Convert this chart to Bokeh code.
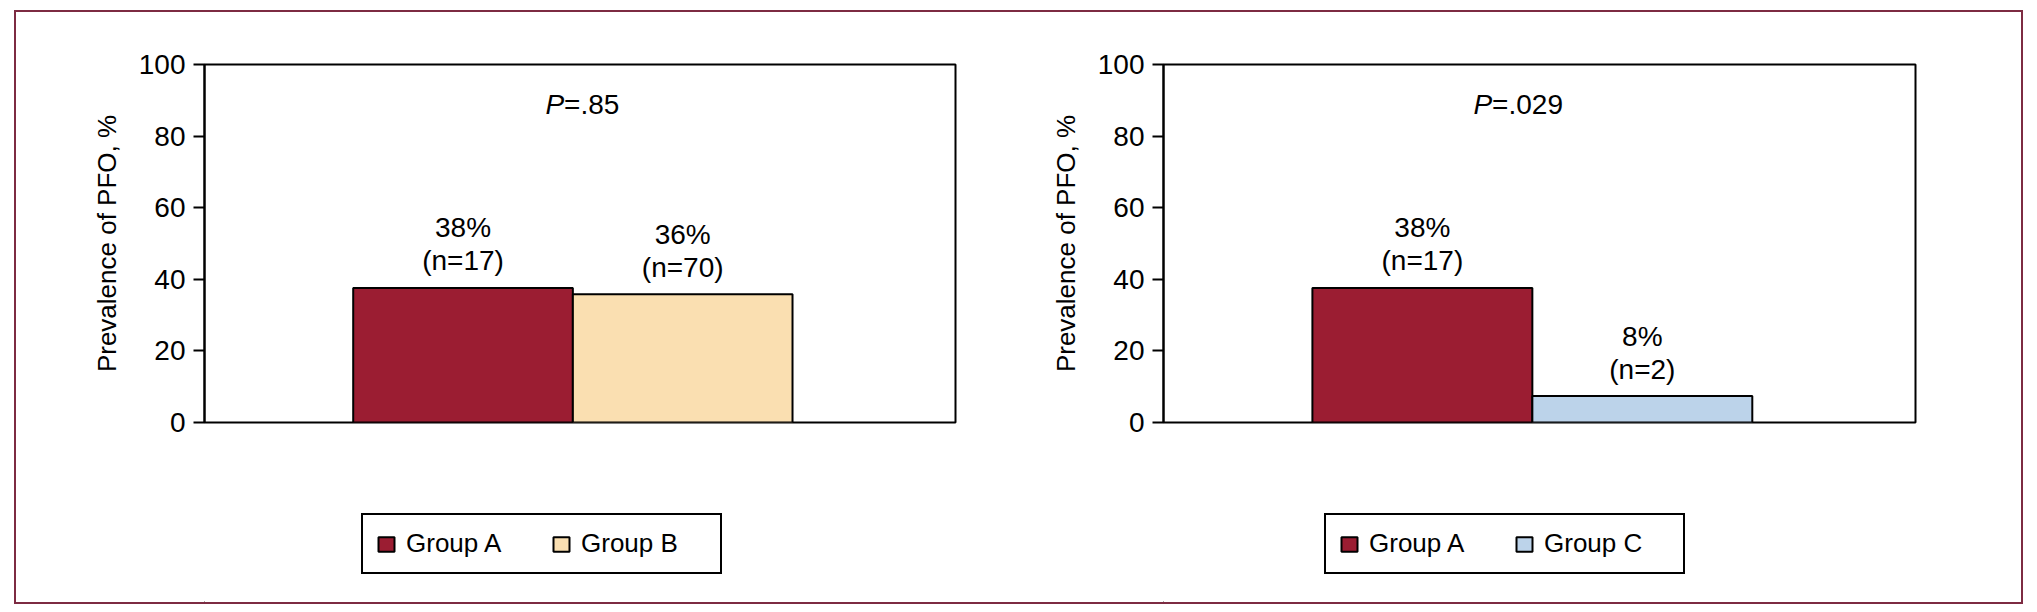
from bokeh.plotting import figure
from bokeh.layouts import row, column
from bokeh.models import Range1d, Legend, LegendItem, ColumnDataSource
from bokeh.core.properties import value
from bokeh.embed import file_html
from bokeh.resources import INLINE

FONT = "Liberation Sans"

# data
y_ticks = [0, 20, 40, 60, 80, 100]

left_groups = ["Group A", "Group B"]
left_values = [37.6, 35.8]
left_pct = ["38%", "36%"]
left_n = ["(n=17)", "(n=70)"]
left_colors = ["#9b1d32", "#fadfb1"]
left_pval = ".85"

right_groups = ["Group A", "Group C"]
right_values = [37.6, 7.4]
right_pct = ["38%", "8%"]
right_n = ["(n=17)", "(n=2)"]
right_colors = ["#9b1d32", "#bcd3ea"]
right_pval = ".029"


def make_panel(groups, values, pct, n, colors, pval, p_x, width, b_left, b_right, leg_x):
    src = ColumnDataSource(data=dict(x=[i + 0.5 for i in range(len(groups))], top=values,
                                     color=colors, pct=pct, n=n))

    p = figure(width=width, height=430, x_range=Range1d(-0.677, 2.742), y_range=Range1d(0, 100),
               x_axis_type=None, output_backend="svg", toolbar_location=None, tools="",
               min_border_left=b_left, min_border_right=b_right, min_border_top=52, min_border_bottom=20)
    p.xgrid.grid_line_color = None
    p.ygrid.grid_line_color = None
    p.outline_line_color = "black"
    p.outline_line_width = 2
    p.background_fill_color = "white"
    p.border_fill_color = "white"

    ax = p.yaxis[0]
    ax.ticker = y_ticks
    ax.axis_line_width = 2
    ax.major_tick_line_width = 2
    ax.major_tick_in = 0
    ax.major_tick_out = 11
    ax.minor_tick_line_color = None
    ax.major_label_standoff = 8
    ax.major_label_text_font = FONT
    ax.major_label_text_font_size = "28px"
    ax.major_label_text_color = "black"
    ax.axis_label = "Prevalence of PFO, %"
    ax.axis_label_text_font = FONT
    ax.axis_label_text_font_size = "26px"
    ax.axis_label_text_font_style = "normal"
    ax.axis_label_text_color = "black"
    ax.axis_label_standoff = 14

    p.vbar(x="x", top="top", width=1, fill_color="color", line_color="black",
           line_width=2, source=src)
    p.text(x="x", y="top", text="n", y_offset=-27, text_align="center", text_baseline="middle",
           text_font=value(FONT), text_font_size="28px", text_color="black", source=src)
    p.text(x="x", y="top", text="pct", y_offset=-60, text_align="center", text_baseline="middle",
           text_font=value(FONT), text_font_size="28px", text_color="black", source=src)

    p.text(x=[p_x], y=[88.7], text=["P"], text_align="right", text_baseline="middle",
           text_font=value(FONT), text_font_size="28px", text_font_style="italic", text_color="black")
    p.text(x=[p_x], y=[88.7], text=["=" + pval], text_align="left", text_baseline="middle",
           text_font=value(FONT), text_font_size="28px", text_color="black")

    # legend lives in its own strip under the chart (bars kept out of its view range)
    lg = figure(width=width, height=160, x_range=Range1d(100, 101), y_range=Range1d(100, 101),
                x_axis_type=None, y_axis_type=None, output_backend="svg", toolbar_location=None,
                tools="", min_border=0, outline_line_color=None)
    lg.border_fill_color = "white"
    lg_bars = lg.vbar(x="x", top="top", width=1, fill_color="color", line_color="black",
                      line_width=2, source=src)
    legend = Legend(items=[LegendItem(label=g, renderers=[lg_bars], index=i) for i, g in enumerate(groups)],
                    orientation="horizontal", location=(leg_x, 28), margin=0,
                    border_line_color="black", border_line_width=2, border_line_alpha=1.0,
                    padding=13, spacing=19,
                    glyph_width=20, glyph_height=18, label_standoff=10, label_width=126, label_height=31,
                    label_text_font=FONT, label_text_font_size="26px", label_text_color="black",
                    background_fill_color="white", background_fill_alpha=1)
    lg.add_layout(legend)
    return column(p, lg)


c1 = make_panel(left_groups, left_values, left_pct, left_n, left_colors, left_pval,
                0.96, 1003, 188, 64, 157)
c2 = make_panel(right_groups, right_values, right_pct, right_n, right_colors, right_pval,
                0.817, 1002, 144, 106, 161)

layout = row(c1, c2, styles={"border": "2px solid #7d2b42", "margin-left": "14px", "margin-top": "10px"})

open("out.html", "w").write(file_html(layout, INLINE))
